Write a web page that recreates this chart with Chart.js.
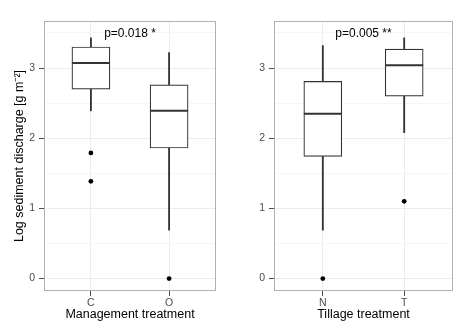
<!DOCTYPE html>
<html lang="en">
<head>
    <meta charset="UTF-8">
    <title>Sediment discharge boxplots</title>
    <script src="https://cdn.jsdelivr.net/npm/chart.js@4.4.1/dist/chart.umd.min.js"></script>
    <style>
        body { margin: 0; background: #fff; }
        .wrap { display: flex; width: 474px; height: 330px; }
    </style>
</head>
<body>
    <div class="wrap">
        <canvas id="mgmtChart" width="237" height="330"></canvas>
        <canvas id="tillChart" width="237" height="330"></canvas>
    </div>

    <script>
        // Management treatment panel
        const mgmtCategories = ['C', 'O'];
        const mgmtMin = [2.39, 0.69];
        const mgmtQ1 = [2.70, 1.86];
        const mgmtMedian = [3.07, 2.39];
        const mgmtQ3 = [3.30, 2.76];
        const mgmtMax = [3.43, 3.22];
        const mgmtOutliers = [[1.79, 1.385], [0]];
        const mgmtPValue = 'p=0.018 *';

        // Tillage treatment panel
        const tillCategories = ['N', 'T'];
        const tillMin = [0.69, 2.08];
        const tillQ1 = [1.74, 2.60];
        const tillMedian = [2.35, 3.04];
        const tillQ3 = [2.81, 3.27];
        const tillMax = [3.32, 3.43];
        const tillOutliers = [[0], [1.10]];
        const tillPValue = 'p=0.005 **';

        const yTicks = [0, 0.5, 1, 1.5, 2, 2.5, 3, 3.5];
        const yTitle = 'Log sediment discharge [g m\u207B\u00B2]';

        const FONT = "'Liberation Sans', Arial, sans-serif";
        const LINE = '#333333';

        // frame + p-value text
        const panelDecor = {
            id: 'panelDecor',
            afterDraw(chart, args, opts) {
                const { ctx, chartArea, scales } = chart;
                ctx.save();
                ctx.strokeStyle = '#b0b0b0';
                ctx.lineWidth = 1;
                ctx.strokeRect(chartArea.left + 0.5, chartArea.top + 0.5,
                    chartArea.right - chartArea.left - 1, chartArea.bottom - chartArea.top - 1);
                ctx.fillStyle = '#000';
                ctx.font = '12px ' + FONT;
                ctx.textAlign = 'center';
                ctx.textBaseline = 'middle';
                ctx.fillText(opts.text, scales.x.getPixelForValue(1.5), scales.y.getPixelForValue(3.49));
                ctx.restore();
            }
        };

        function makePanel(id, categories, mins, q1s, meds, q3s, maxs, outliers, pText, cfg) {
            const pos = categories.map((c, i) => i + 1);
            const outPts = [];
            outliers.forEach((list, i) => list.forEach(v => outPts.push({ x: i + 1, y: v })));

            return new Chart(document.getElementById(id), {
                type: 'bar',
                data: {
                    datasets: [
                        {
                            type: 'scatter',
                            data: pos.map((x, i) => ({ x: x, y: meds[i] })),
                            pointStyle: 'line',
                            radius: 19,
                            borderWidth: 2,
                            borderColor: LINE
                        },
                        {
                            type: 'scatter',
                            data: outPts,
                            pointStyle: 'circle',
                            radius: 2.4,
                            borderWidth: 0,
                            backgroundColor: '#000'
                        },
                        {
                            data: pos.map((x, i) => ({ x: x, y: [q1s[i], q3s[i]] })),
                            backgroundColor: '#ffffff',
                            borderColor: LINE,
                            borderWidth: 1.2,
                            borderSkipped: false,
                            barThickness: 38,
                            grouped: false
                        },
                        {
                            data: pos.map((x, i) => ({ x: x, y: [q3s[i], maxs[i]] })),
                            backgroundColor: LINE,
                            borderWidth: 0,
                            barThickness: 1.2,
                            grouped: false
                        },
                        {
                            data: pos.map((x, i) => ({ x: x, y: [mins[i], q1s[i]] })),
                            backgroundColor: LINE,
                            borderWidth: 0,
                            barThickness: 1.2,
                            grouped: false
                        }
                    ]
                },
                options: {
                    responsive: false,
                    animation: false,
                    events: [],
                    layout: { padding: { top: 15, right: cfg.padRight, bottom: 0, left: 0 } },
                    plugins: {
                        legend: { display: false },
                        tooltip: { enabled: false },
                        panelDecor: { text: pText }
                    },
                    scales: {
                        x: {
                            type: 'linear',
                            min: 0.4,
                            max: 2.6,
                            offset: false,
                            afterBuildTicks: s => { s.ticks = pos.map(v => ({ value: v })); },
                            afterFit: s => { s.height = 39; },
                            border: { display: false },
                            grid: { offset: false, color: '#ececec', tickColor: '#4d4d4d', tickLength: 5 },
                            ticks: {
                                padding: 1,
                                color: '#4d4d4d',
                                font: { family: FONT, size: 10.5 },
                                callback: v => categories[Math.round(v) - 1]
                            },
                            title: {
                                display: true,
                                text: cfg.xTitle,
                                color: '#000',
                                font: { family: FONT, size: 12.5 },
                                padding: { top: 0, bottom: 8 }
                            }
                        },
                        y: {
                            min: -0.177,
                            max: 3.67,
                            afterBuildTicks: s => { s.ticks = yTicks.map(v => ({ value: v })); },
                            afterFit: s => { s.width = cfg.yWidth; },
                            border: { display: false },
                            grid: {
                                color: c => (c.tick && c.tick.value % 1 === 0) ? '#ececec' : '#f6f6f6',
                                tickColor: c => (c.tick && c.tick.value % 1 === 0) ? '#4d4d4d' : 'rgba(0,0,0,0)',
                                tickLength: 5
                            },
                            ticks: {
                                padding: 4,
                                color: '#4d4d4d',
                                font: { family: FONT, size: 10.5 },
                                callback: v => (v % 1 === 0 ? String(v) : '')
                            },
                            title: {
                                display: cfg.yTitle !== '',
                                text: cfg.yTitle,
                                color: '#000',
                                font: { family: FONT, size: 12.5 },
                                padding: { top: 12, bottom: 0 }
                            }
                        }
                    }
                },
                plugins: [panelDecor]
            });
        }

        makePanel('mgmtChart', mgmtCategories, mgmtMin, mgmtQ1, mgmtMedian, mgmtQ3, mgmtMax, mgmtOutliers, mgmtPValue,
            { padRight: 16, yWidth: 44, yTitle: yTitle, xTitle: 'Management treatment' });
        makePanel('tillChart', tillCategories, tillMin, tillQ1, tillMedian, tillQ3, tillMax, tillOutliers, tillPValue,
            { padRight: 18, yWidth: 37, yTitle: '', xTitle: 'Tillage treatment' });
    </script>
</body>
</html>
